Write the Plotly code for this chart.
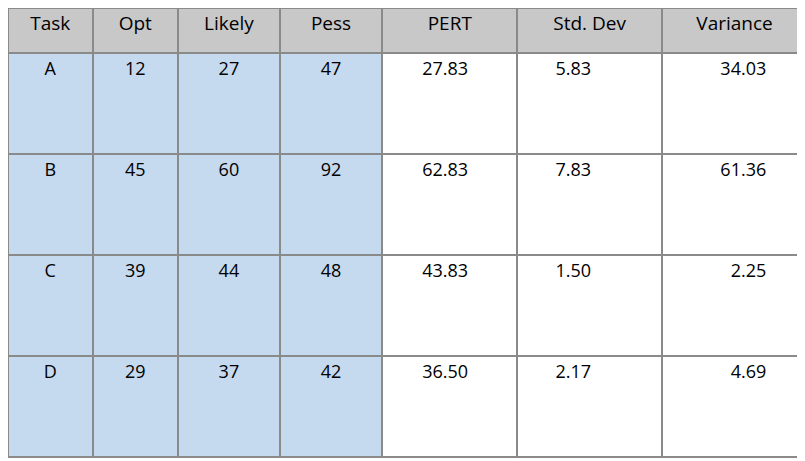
import plotly.graph_objects as go

headers = ["Task", "Opt", "Likely", "Pess", "PERT", "Std. Dev", "Variance"]
tasks = ["A", "B", "C", "D"]
opt = [12, 45, 39, 29]
likely = [27, 60, 44, 37]
pess = [47, 92, 48, 42]
pert = ["27.83", "62.83", "43.83", "36.50"]
std = ["5.83", "7.83", "1.50", "2.17"]
var = ["34.03", "61.36", "2.25", "4.69"]

nb = "\u00a0"
pert_t = [p + nb * 2 for p in pert]
std_t = [s + nb * 7 for s in std]
var_t = [v + nb * 7 for v in var]

blue = "#c5d9ef"
fig = go.Figure(go.Table(
    columnwidth=[84, 85, 101, 102, 134, 144, 144],
    header=dict(values=headers, fill_color="#c8c8c8", line=dict(color="#8a8a8a", width=2),
                font=dict(family="Open Sans", size=19, color="black"), height=45, align="center"),
    cells=dict(values=[tasks, opt, likely, pess, pert_t, std_t, var_t],
               fill_color=[[blue]*4]*4 + [["white"]*4]*3,
               line=dict(color="#8a8a8a", width=2),
               font=dict(family="Open Sans", size=18, color="black"),
               height=101,
               align=["center"]*6 + ["right"]),
))
fig.update_layout(width=805, height=461, margin=dict(l=0, r=6, t=0, b=0), paper_bgcolor="white")
fig.write_html("out.html")
